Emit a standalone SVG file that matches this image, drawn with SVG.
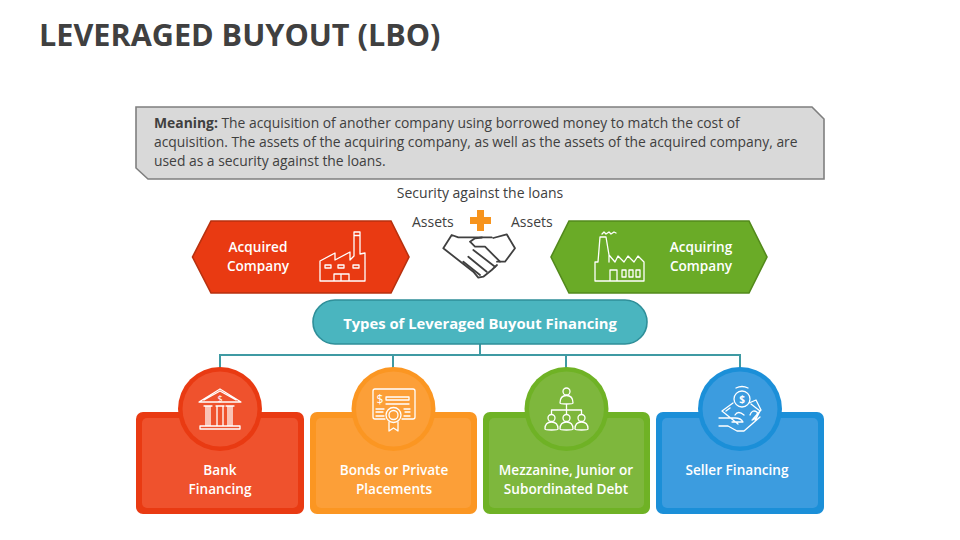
<svg xmlns="http://www.w3.org/2000/svg" width="960" height="540" viewBox="0 0 960 540">
<style>
text{font-family:"Open Sans","Noto Sans","Liberation Sans",sans-serif}
.t{font-size:14px;fill:#404040}
.w{font-size:13.600px;fill:#fff;font-weight:600;text-anchor:middle}
.i{fill:none;stroke:#fff;stroke-width:1.3;stroke-linejoin:round;stroke-linecap:round}
.c{fill:none;stroke:#3f9aa3;stroke-width:2}
.h{fill:none;stroke:#404040;stroke-width:1.8;stroke-linejoin:round;stroke-linecap:round}
</style>
<rect width="960" height="540" fill="#fff"/>
<g id="title"><text x="39" y="46" font-size="30.600" font-weight="700" fill="#404040">LEVERAGED BUYOUT (LBO)</text></g>
<g id="meaning">
<path d="M136 107H812L824 119V179H148L136 168Z" fill="#d9d9d9" stroke="#7f7f7f" stroke-width="1.6"/>
<text class="t" x="154" y="128" font-size="13.860" style="font-size:13.860px"><tspan font-weight="700">Meaning:</tspan> The acquisition of another company using borrowed money to match the cost of</text>
<text class="t" x="154" y="147" style="font-size:13.860px">acquisition. The assets of the acquiring company, as well as the assets of the acquired company, are</text>
<text class="t" x="154" y="166" style="font-size:13.860px">used as a security against the loans.</text>
</g>
<g id="security">
<text class="t" x="480" y="198" text-anchor="middle">Security against the loans</text>
<text class="t" x="412" y="227">Assets</text>
<text class="t" x="511" y="227">Assets</text>
<path id="plus" d="M477 210H484V217H491V224H484V231H477V224H470V217H477Z" fill="#f7941d"/>
</g>
<g id="handshake" class="h">
<path d="M443.300 248.300L451.700 235L458.300 237.300H466.700H491.700M493.300 238L506.700 234.300L515 248.300L505 261.700H497M443.300 248.300L473.300 271.700L478.300 277.700L483.300 276.700L491.700 270L497 265"/>
<path d="M470 241.700L475 238.300L482 237.500M470 241.700L475 246.700H485L500 261.700M473.300 250L495 266.700M468.300 256.700L486.700 271.700M463.300 261.700L480 275"/>
</g>
<g id="acquired">
<path d="M211 221H391L409 257L391 293H211L192.500 257Z" fill="#e93a12" stroke="#b8310f" stroke-width="1.6"/>
<text class="w" x="258" y="252">Acquired</text><text class="w" x="258" y="271">Company</text>
<path class="i" d="M320 281V261L335 253V260L350 252V260L354 256V232H360V254L365 253V281ZM354 235.500H360M334 281V274H349V281M341 274V281M325 265H331V268H325ZM338 265H344V268H338ZM353 265H359V268H353Z"/>
</g>
<g id="acquiring">
<path d="M569 221H749L767 257L749 293H569L551 257Z" fill="#6aab27" stroke="#538a1c" stroke-width="1.6"/>
<text class="w" x="701" y="252">Acquiring</text><text class="w" x="701" y="271">Company</text>
<path class="i" d="M595 281V262H598L600 237H606L609 255V262M609 255L615 262L618 256L624 262L628 256L634 262L638 256L644 262V281H595M610 281V270H617V281M622 270H626V277H622ZM629 270H633V277H629ZM636 270H640V277H636ZM602 234L604 232L606 234L609 232L611 234L614 232L616 233"/>
</g>
<g id="connectors">
<path class="c" d="M480 344V355M220 368V355H740V368M393 355V368M566 355V368"/>
</g>
<g id="pill">
<rect x="313" y="300" width="334" height="44" rx="22" fill="#4ab5bf" stroke="#2f8f99" stroke-width="1.6"/>
<text x="480" y="328.500" font-size="14.800" font-weight="700" fill="#fff" text-anchor="middle">Types of Leveraged Buyout Financing</text>
</g>
<g id="bank">
<rect x="136" y="412" width="168" height="102" rx="7" fill="#e93a12"/><rect x="142" y="418" width="156" height="90" rx="5" fill="#ef522d"/>
<circle cx="220" cy="409" r="42" fill="#e93a12"/><circle cx="220" cy="409" r="37.500" fill="#ef522d"/>
<path class="i" d="M199 402L220 389L241 402ZM204 400L220 391L236 400M200 429H240V426H200ZM204 406H212M208 406V426M226 406H234M230 406V426M216 406H224M217 406V426H223V406M206 406V426M210 406V426M228 406V426M232 406V426"/>
<text x="220" y="402" font-size="9" fill="#fff" text-anchor="middle">$</text>
<text class="w" x="220" y="475">Bank</text><text class="w" x="220" y="494">Financing</text>
</g>
<g id="bonds">
<rect x="310" y="412" width="167" height="102" rx="7" fill="#fb9622"/><rect x="316" y="418" width="155" height="90" rx="5" fill="#fc9f38"/>
<circle cx="393.500" cy="409" r="42" fill="#fb9622"/><circle cx="393.500" cy="409" r="37.500" fill="#fc9f38"/>
<path class="i" d="M385 419H375Q373 419 373 417V391Q373 389 375 389H413Q415 389 415 391V417Q415 419 413 419H402M386 397H409V400H386ZM386 404H409M376 409H384M376 412H383M376 416H384M404 409H410M405 412H410M404 416H410"/>
<circle class="i" cx="393.500" cy="415" r="7.500"/><circle class="i" cx="393.500" cy="415" r="4.500"/>
<path class="i" d="M389 422V431L393.500 428L398 431V422"/>
<text x="380" y="404" font-size="12" fill="#fff" text-anchor="middle">$</text>
<text class="w" x="394" y="475">Bonds or Private</text><text class="w" x="394" y="494">Placements</text>
</g>
<g id="mezzanine">
<rect x="483" y="412" width="167" height="102" rx="7" fill="#6fb225"/><rect x="489" y="418" width="155" height="90" rx="5" fill="#7eb73d"/>
<circle cx="566.500" cy="409" r="42" fill="#6fb225"/><circle cx="566.500" cy="409" r="37.500" fill="#7eb73d"/>
<circle class="i" cx="566.500" cy="391.500" r="3.500"/><path class="i" d="M560 403Q560 395.500 566.500 395.500Q573 395.500 573 403Q573 404 566.500 404Q560 404 560 403ZM551.500 414V410H581.500V414M566.500 405V414"/>
<g id="people" class="i"><circle cx="551.500" cy="418" r="3.500"/><path d="M545 429Q545 422 551.500 422Q558 422 558 429Q558 430 551.500 430Q545 430 545 429Z"/><circle cx="566.500" cy="418" r="3.500"/><path d="M560 429Q560 422 566.500 422Q573 422 573 429Q573 430 566.500 430Q560 430 560 429Z"/><circle cx="581.500" cy="418" r="3.500"/><path d="M575 429Q575 422 581.500 422Q588 422 588 429Q588 430 581.500 430Q575 430 575 429Z"/></g>
<text class="w" x="566" y="475">Mezzanine, Junior or</text><text class="w" x="566" y="494">Subordinated Debt</text>
</g>
<g id="seller">
<rect x="656" y="412" width="168" height="102" rx="7" fill="#1b8fd8"/><rect x="662" y="418" width="156" height="90" rx="5" fill="#3c9cdf"/>
<circle cx="740" cy="409" r="42" fill="#1b8fd8"/><circle cx="740" cy="409" r="37.500" fill="#3c9cdf"/>
<circle class="i" cx="742" cy="399" r="8"/>
<text x="742" y="403" font-size="10" font-weight="700" fill="#fff" text-anchor="middle">$</text>
<path class="i" d="M736 388Q742 385 748 388M722 411L733 403M722 411L738 424M749 403L756 400L761 410L753 419M751 404L760 411L755 421M726 411L730 408M735 415Q738 410 744 415M750 415Q752 409 757 412Q759 418 752 420M719 418H735Q741 418 743 422H732M719 426H728L737 431H744L760 417"/>
<text class="w" x="737" y="475">Seller Financing</text>
</g>
</svg>
